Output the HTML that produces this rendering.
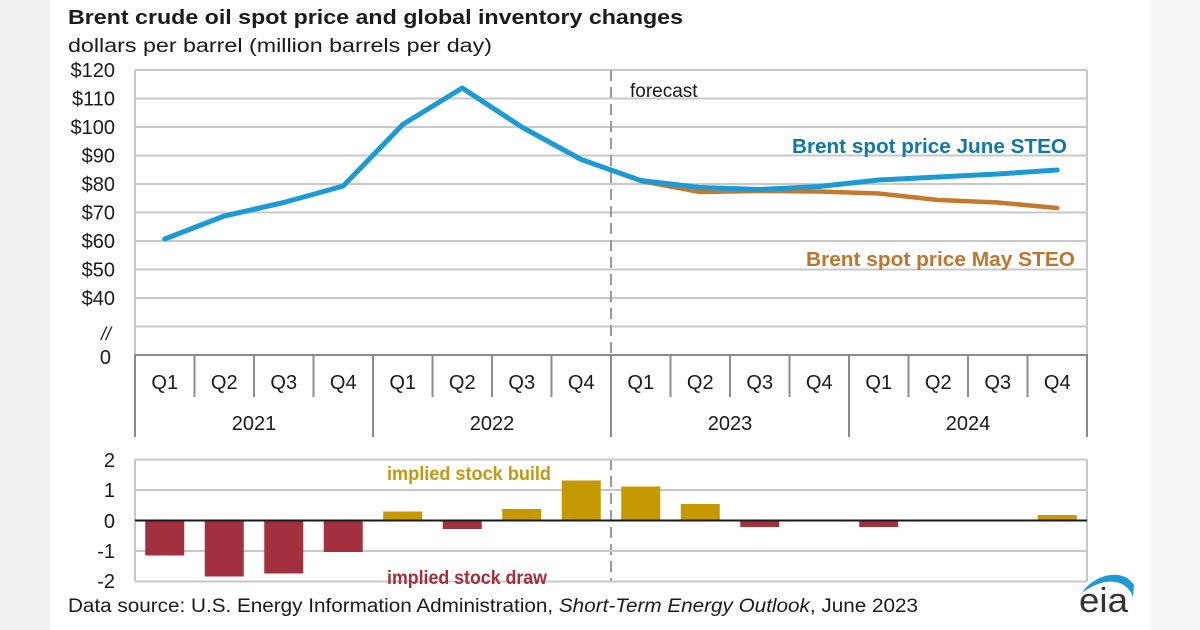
<!DOCTYPE html>
<html><head><meta charset="utf-8"><style>
html,body{margin:0;padding:0;background:#fff;}
svg{display:block;}
text{font-family:"Liberation Sans",Arial,sans-serif;}
</style></head><body>
<svg width="1200" height="630" viewBox="0 0 1200 630" xmlns="http://www.w3.org/2000/svg">
<rect x="0" y="0" width="1200" height="630" fill="#ffffff"/>
<rect x="0" y="0" width="50" height="630" fill="#f1f1f1"/>
<rect x="1151" y="0" width="49" height="630" fill="#f7f7f7"/>

<!-- Title -->
<text x="68" y="24" font-size="20" font-weight="bold" fill="#1a1a1a" textLength="615" lengthAdjust="spacingAndGlyphs">Brent crude oil spot price and global inventory changes</text>
<text x="68" y="52" font-size="19" fill="#1a1a1a" textLength="424" lengthAdjust="spacingAndGlyphs">dollars per barrel (million barrels per day)</text>

<!-- Upper gridlines -->
<g stroke="#c8c8c8" stroke-width="2">
<line x1="135" y1="70" x2="1087" y2="70"/>
<line x1="135" y1="98.5" x2="1087" y2="98.5"/>
<line x1="135" y1="127" x2="1087" y2="127"/>
<line x1="135" y1="155.5" x2="1087" y2="155.5"/>
<line x1="135" y1="184" x2="1087" y2="184"/>
<line x1="135" y1="212.5" x2="1087" y2="212.5"/>
<line x1="135" y1="241" x2="1087" y2="241"/>
<line x1="135" y1="269.5" x2="1087" y2="269.5"/>
<line x1="135" y1="298" x2="1087" y2="298"/>
<line x1="135" y1="326.5" x2="1087" y2="326.5"/>
<line x1="135" y1="70" x2="135" y2="355"/>
<line x1="1087" y1="70" x2="1087" y2="355"/>
</g>

<!-- Y labels -->
<g font-size="20" fill="#1a1a1a" text-anchor="end">
<text x="115" y="77">$120</text>
<text x="115" y="105.5">$110</text>
<text x="115" y="134">$100</text>
<text x="115" y="162.5">$90</text>
<text x="115" y="191">$80</text>
<text x="115" y="219.5">$70</text>
<text x="115" y="248">$60</text>
<text x="115" y="276.5">$50</text>
<text x="115" y="305">$40</text>
<text x="111" y="340" font-style="italic" font-size="18">//</text>
<text x="111" y="364">0</text>
</g>

<!-- Forecast dashed line -->
<g stroke="#9a9a9a" stroke-width="2" stroke-dasharray="11,6">
<line x1="611" y1="70" x2="611" y2="355"/>
<line x1="611" y1="459" x2="611" y2="582"/>
</g>
<text x="630" y="97" font-size="19" fill="#1a1a1a">forecast</text>

<!-- Category axis -->
<g stroke="#8c8c8c" stroke-width="2">
<line x1="134" y1="355" x2="1088" y2="355"/>
<line x1="135" y1="355" x2="135" y2="437"/>
<line x1="373" y1="355" x2="373" y2="437"/>
<line x1="611" y1="355" x2="611" y2="437"/>
<line x1="849" y1="355" x2="849" y2="437"/>
<line x1="1087" y1="355" x2="1087" y2="437"/>
<line x1="194.5" y1="355" x2="194.5" y2="397"/>
<line x1="254" y1="355" x2="254" y2="397"/>
<line x1="313.5" y1="355" x2="313.5" y2="397"/>
<line x1="432.5" y1="355" x2="432.5" y2="397"/>
<line x1="492" y1="355" x2="492" y2="397"/>
<line x1="551.5" y1="355" x2="551.5" y2="397"/>
<line x1="670.5" y1="355" x2="670.5" y2="397"/>
<line x1="730" y1="355" x2="730" y2="397"/>
<line x1="789.5" y1="355" x2="789.5" y2="397"/>
<line x1="908.5" y1="355" x2="908.5" y2="397"/>
<line x1="968" y1="355" x2="968" y2="397"/>
<line x1="1027.5" y1="355" x2="1027.5" y2="397"/>
</g>
<g font-size="20" fill="#1a1a1a" text-anchor="middle">
<text x="164.75" y="389">Q1</text>
<text x="224.25" y="389">Q2</text>
<text x="283.75" y="389">Q3</text>
<text x="343.25" y="389">Q4</text>
<text x="402.75" y="389">Q1</text>
<text x="462.25" y="389">Q2</text>
<text x="521.75" y="389">Q3</text>
<text x="581.25" y="389">Q4</text>
<text x="640.75" y="389">Q1</text>
<text x="700.25" y="389">Q2</text>
<text x="759.75" y="389">Q3</text>
<text x="819.25" y="389">Q4</text>
<text x="878.75" y="389">Q1</text>
<text x="938.25" y="389">Q2</text>
<text x="997.75" y="389">Q3</text>
<text x="1057.25" y="389">Q4</text>
<text x="254" y="430">2021</text>
<text x="492" y="430">2022</text>
<text x="730" y="430">2023</text>
<text x="968" y="430">2024</text>
</g>

<!-- Series -->
<polyline fill="none" stroke="#c47a2c" stroke-width="4.5" stroke-linejoin="round" stroke-linecap="round"
 points="640.75,181 700.25,192 759.75,191 819.25,191.5 878.75,193.5 938.25,200 997.75,202.5 1057.25,208"/>
<polyline fill="none" stroke="#1b9ad6" stroke-width="5" stroke-linejoin="round" stroke-linecap="round"
 points="164.75,239 224.25,216 283.75,202.5 343.25,186 402.75,124.5 462.25,88 521.75,127 581.25,159.5 640.75,180.5 700.25,187.5 759.75,189.5 819.25,186.5 878.75,180 938.25,177 997.75,174 1057.25,170"/>

<text x="792" y="153" font-size="20" font-weight="bold" fill="#0f78a8" textLength="275" lengthAdjust="spacingAndGlyphs">Brent spot price June STEO</text>
<text x="806" y="266" font-size="20" font-weight="bold" fill="#c0752c" textLength="269" lengthAdjust="spacingAndGlyphs">Brent spot price May STEO</text>

<!-- Lower chart -->
<g stroke="#c8c8c8" stroke-width="2">
<line x1="135" y1="459.5" x2="1087" y2="459.5"/>
<line x1="135" y1="490" x2="1087" y2="490"/>
<line x1="135" y1="551" x2="1087" y2="551"/>
<line x1="135" y1="581.5" x2="1087" y2="581.5"/>
<line x1="135" y1="459.5" x2="135" y2="581.5"/>
<line x1="1087" y1="459.5" x2="1087" y2="581.5"/>
</g>
<g font-size="20" fill="#1a1a1a" text-anchor="end">
<text x="115" y="467">2</text>
<text x="115" y="497">1</text>
<text x="115" y="528">0</text>
<text x="115" y="558">-1</text>
<text x="115" y="588">-2</text>
</g>

<g fill="#a3303f">
<rect x="145.25" y="520.5" width="39" height="35"/>
<rect x="204.75" y="520.5" width="39" height="56"/>
<rect x="264.25" y="520.5" width="39" height="53"/>
<rect x="323.75" y="520.5" width="39" height="31.5"/>
<rect x="442.75" y="520.5" width="39" height="8.5"/>
<rect x="740.25" y="520.5" width="39" height="6.5"/>
<rect x="859.25" y="520.5" width="39" height="6.5"/>
</g>
<g fill="#c49a00">
<rect x="383.25" y="511.5" width="39" height="9"/>
<rect x="502.25" y="509" width="39" height="11.5"/>
<rect x="561.75" y="480.5" width="39" height="40"/>
<rect x="621.25" y="486.5" width="39" height="34"/>
<rect x="680.75" y="504" width="39" height="16.5"/>
<rect x="1037.75" y="515" width="39" height="5.5"/>
</g>
<line x1="135" y1="520.5" x2="1087" y2="520.5" stroke="#1a1a1a" stroke-width="2"/>

<text x="387" y="480" font-size="19" font-weight="bold" fill="#c09a10" textLength="164" lengthAdjust="spacingAndGlyphs">implied stock  build</text>
<text x="387" y="584" font-size="19" font-weight="bold" fill="#a3303f" textLength="160" lengthAdjust="spacingAndGlyphs">implied stock draw</text>

<!-- Footer -->
<text x="68" y="612" font-size="19" fill="#1a1a1a" textLength="850" lengthAdjust="spacingAndGlyphs">Data source: U.S. Energy Information Administration, <tspan font-style="italic">Short-Term Energy Outlook</tspan>, June 2023</text>

<!-- EIA logo -->
<path d="M1082,593 C1092,576 1122,566 1134,585 L1133,597 C1127,580 1106,575 1082,593 Z" fill="#1b9ad6"/>
<text x="1079" y="612" font-size="34" fill="#333333" textLength="49" lengthAdjust="spacingAndGlyphs">eia</text>
</svg>
</body></html>
